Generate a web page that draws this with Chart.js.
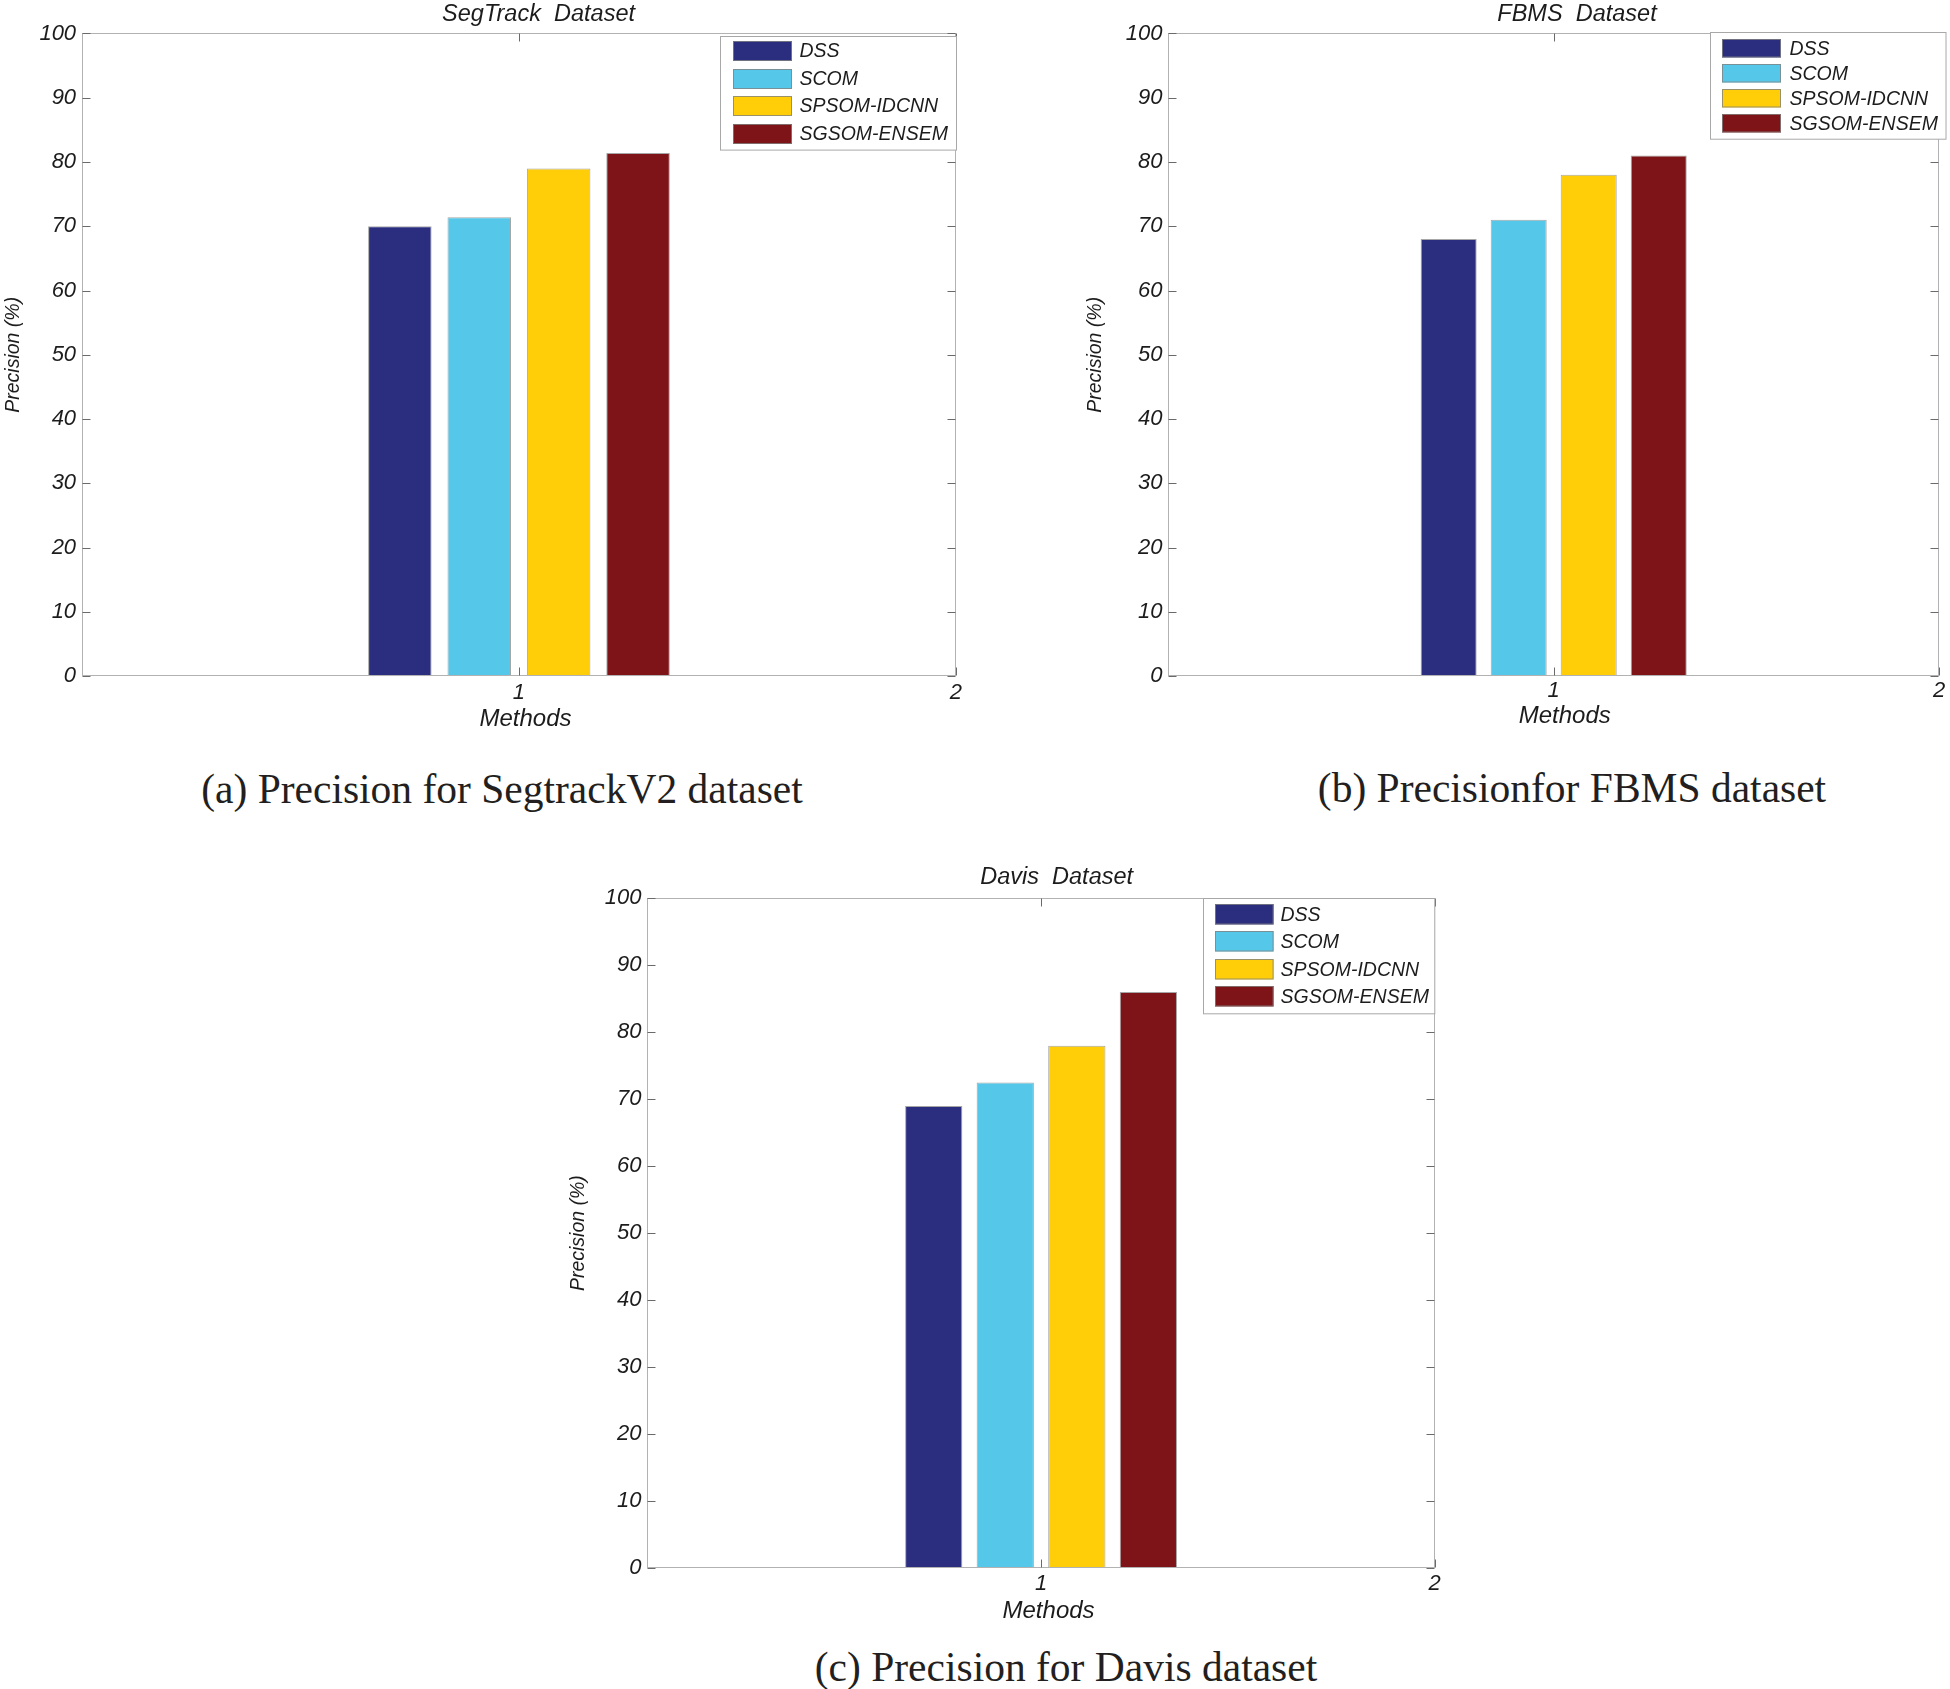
<!DOCTYPE html>
<html>
<head>
<meta charset="utf-8">
<script src="https://cdn.jsdelivr.net/npm/chart.js@4.4.1/dist/chart.umd.min.js"></script>
<style>
  html, body { margin: 0; padding: 0; background: #ffffff; }
  body { width: 1950px; height: 1689px; position: relative; overflow: hidden; }
  canvas { position: absolute; display: block; }
  .cap { position: absolute; font-family: "Liberation Serif", "DejaVu Serif", serif; font-size: 41.5px;
         color: #231f20; white-space: nowrap; transform: translate(-50%, -50%); line-height: 1; }
</style>
</head>
<body>
<canvas id="chartA" width="975" height="760" style="left:0px;top:0px;"></canvas>
<canvas id="chartB" width="950" height="760" style="left:1000px;top:0px;"></canvas>
<canvas id="chartC" width="920" height="780" style="left:540px;top:850px;"></canvas>
<div class="cap" id="capA" style="left:502px;top:790px;"></div>
<div class="cap" id="capB" style="left:1572px;top:789px;"></div>
<div class="cap" id="capC" style="left:1066px;top:1668px;"></div>
<script>
// ---------------- data ----------------
const seriesNames = ['DSS', 'SCOM', 'SPSOM-IDCNN', 'SGSOM-ENSEM'];
const xTickLabels = ['', '1', '2'];
const segtrackPrecision = [70, 71.4, 79, 81.4];
const fbmsPrecision = [68, 71, 78, 81];
const davisPrecision = [69, 72.5, 78, 86];
const yTickMin = 0;
const yTickMax = 100;
const yTickStep = 10;
const chartTitles = ['SegTrack  Dataset', 'FBMS  Dataset', 'Davis  Dataset'];
const xAxisTitle = 'Methods';
const yAxisTitle = 'Precision (%)';
const captionTexts = ['(a) Precision for SegtrackV2 dataset', '(b) Precisionfor FBMS dataset', '(c) Precision for Davis dataset'];

// ---------------- styles ----------------
const seriesColors = ['#2b2e7f', '#55c8e9', '#ffce08', '#7e1417'];
const FONT = '"Liberation Sans", Arial, Helvetica, sans-serif';
const TEXT = '#1c1c1c';

document.getElementById('capA').textContent = captionTexts[0];
document.getElementById('capB').textContent = captionTexts[1];
document.getElementById('capC').textContent = captionTexts[2];

const framePlugin = {
  id: 'matlabFrame',
  afterDatasetsDraw(chart) {
    const {ctx, chartArea: a, scales: {x, y}} = chart;
    const L = Math.round(a.left) + 0.5, R = Math.round(a.right) - 0.5;
    const T = Math.round(a.top) + 0.5, B = Math.round(a.bottom) - 0.5;
    ctx.save();
    ctx.lineWidth = 1;
    ctx.strokeStyle = '#b2b2b2';
    ctx.strokeRect(L, T, R - L, B - T);
    ctx.strokeStyle = '#6a6a6a';
    const tl = 8;
    ctx.beginPath();
    y.ticks.forEach((t, i) => {
      const py = Math.round(y.getPixelForTick(i)) + 0.5;
      ctx.moveTo(L, py); ctx.lineTo(L + tl, py);
      ctx.moveTo(R - tl, py); ctx.lineTo(R, py);
    });
    x.ticks.forEach((t, i) => {
      if (x.getLabelForValue(t.value) === '') return;
      const px = Math.round(x.getPixelForTick(i)) + 0.5;
      ctx.moveTo(px, B); ctx.lineTo(px, B - tl);
      ctx.moveTo(px, T); ctx.lineTo(px, T + tl);
    });
    ctx.stroke();
    ctx.restore();
  }
};

const legendPlugin = {
  id: 'matlabLegend',
  afterDraw(chart, args, o) {
    const {ctx, chartArea: a} = chart;
    const bx = Math.round(a.right + o.dxR - o.w) + 0.5;
    const by = Math.round(a.top + o.dy) + 0.5;
    ctx.save();
    ctx.fillStyle = '#ffffff';
    ctx.fillRect(bx, by, o.w, o.h);
    ctx.lineWidth = 1;
    ctx.strokeStyle = '#a8a8a8';
    ctx.strokeRect(bx, by, o.w, o.h);
    ctx.font = 'italic 19.5px ' + FONT;
    ctx.textBaseline = 'middle';
    ctx.textAlign = 'left';
    chart.data.datasets.forEach((ds, i) => {
      const sy = Math.round(by + o.padTop + i * o.rowGap);
      const sx = Math.round(bx + o.swX);
      ctx.fillStyle = ds.backgroundColor;
      ctx.fillRect(sx, sy, o.swW, o.swH);
      ctx.strokeStyle = 'rgba(130,130,130,0.8)';
      ctx.strokeRect(sx + 0.5, sy + 0.5, o.swW - 1, o.swH - 1);
      ctx.fillStyle = TEXT;
      ctx.fillText(ds.label, bx + o.txtX, sy + o.swH / 2 + 1);
    });
    ctx.restore();
  }
};

// shifts the chart title and the x-axis title horizontally (MATLAB layout offsets)
const titleShiftPlugin = {
  id: 'titleShift',
  afterLayout(chart, args, o) {
    const t = chart.titleBlock;
    if (t && o && o.dx) { t.left += o.dx; t.right += o.dx; }
    const sx = chart.scales.x;
    if (sx && o && o.xTitleDx && !sx._titleShifted) {
      const orig = sx.drawTitle.bind(sx);
      const d = o.xTitleDx;
      sx.drawTitle = function () { this.ctx.save(); this.ctx.translate(d, 0); orig(); this.ctx.restore(); };
      sx._titleShifted = true;
    }
  }
};

function makeChart(id, values, title, lay) {
  const datasets = seriesNames.map((name, i) => ({
    label: name,
    data: xTickLabels.map((lbl, j) => (j === 1 ? values[i] : null)),
    backgroundColor: seriesColors[i],
    borderColor: 'rgba(150,150,150,0.85)',
    borderWidth: 1,
    borderSkipped: 'bottom',
    categoryPercentage: 0.727,
    barPercentage: 0.8
  }));
  return new Chart(document.getElementById(id), {
    type: 'bar',
    data: { labels: xTickLabels, datasets },
    plugins: [framePlugin, legendPlugin, titleShiftPlugin],
    options: {
      responsive: false,
      animation: false,
      devicePixelRatio: 1,
      layout: { padding: lay.pad },
      plugins: {
        legend: { display: false },
        tooltip: { enabled: false },
        title: {
          display: true, text: title, fullSize: false, color: TEXT,
          font: { family: FONT, size: 23.5, style: 'italic', weight: 'normal', lineHeight: 1 },
          padding: lay.titlePad
        },
        matlabLegend: lay.legend,
        titleShift: { dx: lay.titleDx, xTitleDx: lay.xTitleDx }
      },
      scales: {
        x: {
          type: 'category', offset: false,
          grid: { display: false, drawTicks: false },
          border: { display: false },
          ticks: { color: TEXT, font: { family: FONT, size: 22, style: 'italic' }, padding: lay.xTickPad,
                   maxRotation: 0, minRotation: 0, autoSkip: false },
          title: { display: true, text: xAxisTitle, color: TEXT,
                   font: { family: FONT, size: 24, style: 'italic', lineHeight: 1.2 }, padding: { top: 0, bottom: 0 } },
          afterFit: (s) => { s.height = lay.xH; }
        },
        y: {
          min: yTickMin, max: yTickMax,
          grid: { display: false, drawTicks: false },
          border: { display: false },
          ticks: { stepSize: yTickStep, autoSkip: false, color: TEXT, padding: 6,
                   font: { family: FONT, size: 22, style: 'italic' } },
          title: { display: true, text: yAxisTitle, color: TEXT,
                   font: { family: FONT, size: 19.5, style: 'italic', lineHeight: 1.2 },
                   padding: { top: lay.yTitlePad, bottom: 0 } },
          afterFit: (s) => { s.width = lay.yW; }
        }
      }
    }
  });
}

makeChart('chartA', segtrackPrecision, chartTitles[0], {
  pad: { left: 0, right: 19.2, top: 0, bottom: 26.6 },
  titlePad: { top: 3, bottom: 6.9 }, titleDx: 19.6, xTitleDx: 6.5,
  xH: 57.2, yW: 82.1, yTitlePad: 1.5, xTickPad: 3,
  legend: { dxR: 0, dy: 2.2, w: 236, h: 113.6, padTop: 4.8, rowGap: 27.5, swX: 12, swW: 59, swH: 20, txtX: 79 }
});
makeChart('chartB', fbmsPrecision, chartTitles[1], {
  pad: { left: 80, right: 11, top: 0, bottom: 29.6 },
  titlePad: { top: 3, bottom: 6.9 }, titleDx: 23.3, xTitleDx: 11,
  xH: 54.2, yW: 88.4, yTitlePad: 4, xTickPad: 1.8,
  legend: { dxR: 6, dy: -1.1, w: 235.5, h: 106.7, padTop: 6.5, rowGap: 25, swX: 11.5, swW: 59, swH: 18.5, txtX: 79 }
});
makeChart('chartC', davisPrecision, chartTitles[2], {
  pad: { left: 20, right: 25.3, top: 0, bottom: 4.7 },
  titlePad: { top: 16.2, bottom: 8.6 }, titleDx: 15.6, xTitleDx: 7.5,
  xH: 57.3, yW: 87.4, yTitlePad: 6.5, xTickPad: 2.2,
  legend: { dxR: 0, dy: -0.5, w: 231.3, h: 115.3, padTop: 5.3, rowGap: 27.5, swX: 11.6, swW: 58.6, swH: 20.5, txtX: 77 }
});
</script>
</body>
</html>
